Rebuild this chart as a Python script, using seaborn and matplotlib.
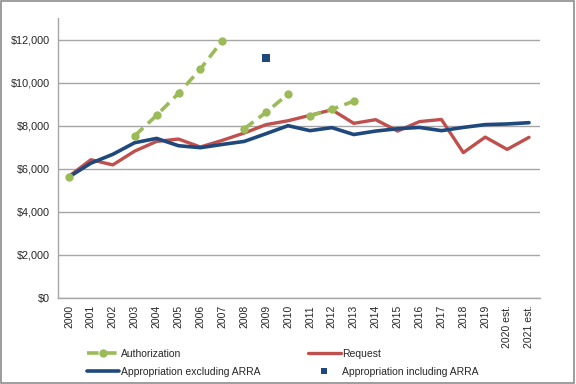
import numpy as np
import pandas as pd
import matplotlib
matplotlib.use("Agg")
import matplotlib.pyplot as plt
import seaborn as sns
from matplotlib.lines import Line2D
from matplotlib.patches import Rectangle
from matplotlib.ticker import FuncFormatter, FixedLocator

years = ["2000", "2001", "2002", "2003", "2004", "2005", "2006", "2007", "2008",
         "2009", "2010", "2011", "2012", "2013", "2014", "2015", "2016", "2017",
         "2018", "2019", "2020 est.", "2021 est."]

request = [5650, 6420, 6180, 6820, 7270, 7380, 7010, 7320, 7660, 8050, 8230,
           8480, 8740, 8110, 8280, 7750, 8190, 8290, 6750, 7470, 6900, 7460]
approp_excl = [5620, 6260, 6670, 7210, 7410, 7070, 6980, 7130, 7270, 7630, 8000,
               7770, 7910, 7590, 7750, 7860, 7920, 7770, 7920, 8050, 8080, 8140]

# authorization comes in separate pieces (each law its own run)
auth_years = ["2000",
              "2003", "2004", "2005", "2006", "2007",
              "2008", "2009", "2010",
              "2011", "2012", "2013"]
auth_values = [5600,
               7530, 8480, 9500, 10630, 11950,
               7860, 8620, 9470,
               8460, 8760, 9140]
auth_segment = [0, 1, 1, 1, 1, 1, 2, 2, 2, 3, 3, 3]

arra_year = ["2009"]
arra_value = [11150]

GREEN = "#9BBB59"
RED = "#C0504D"
BLUE = "#1F497D"
GRID = "#A6A6A6"

sns.set_style("white")
plt.rcParams["font.family"] = ["Liberation Sans", "DejaVu Sans"]

pos = {y: i for i, y in enumerate(years)}
df = pd.DataFrame({"pos": range(len(years)), "Request": request,
                   "Approp": approp_excl})
auth_df = pd.DataFrame({"pos": [pos[y] for y in auth_years],
                        "value": auth_values, "segment": auth_segment})
arra_df = pd.DataFrame({"pos": [pos[y] for y in arra_year], "value": arra_value})

fig = plt.figure(figsize=(5.76, 3.84), dpi=100)
ax = fig.add_axes([58 / 576, 1 - 298 / 384, (540 - 58) / 576, (298 - 18) / 384])

sns.lineplot(data=df, x="pos", y="Request", color=RED, lw=2.4, ax=ax, zorder=3)
sns.lineplot(data=df, x="pos", y="Approp", color=BLUE, lw=2.6, ax=ax, zorder=4)
sns.lineplot(data=auth_df, x="pos", y="value", units="segment", estimator=None,
             color=GREEN, lw=2.6, linestyle=(0, (3.2, 1.8)), marker="o",
             markersize=6, markeredgewidth=0, ax=ax, zorder=5)
sns.scatterplot(data=arra_df, x="pos", y="value", color=BLUE, marker="s", s=28,
                linewidth=0, ax=ax, zorder=6)

ax.set_xlim(-0.5, len(years) - 0.5)
ax.set_ylim(0, 13000)
ax.set_yticks(range(0, 12001, 2000))
ax.yaxis.set_major_formatter(FuncFormatter(lambda v, p: f"${int(v):,}"))
ax.set_xticks(range(len(years)))
ax.set_xticklabels(years, rotation=90)
ax.xaxis.set_minor_locator(FixedLocator(np.arange(-0.5, len(years), 1)))
ax.tick_params(axis="x", which="major", length=0, pad=5, labelsize=7.5)
ax.tick_params(axis="x", which="minor", length=4, color=GRID, direction="out")
ax.tick_params(axis="y", length=4, color=GRID, direction="out", pad=2, labelsize=7.8)
ax.grid(axis="y", color=GRID, lw=1)
ax.set_xlabel("")
ax.set_ylabel("")
for s in ["top", "right"]:
    ax.spines[s].set_visible(False)
for s in ["left", "bottom"]:
    ax.spines[s].set_color(GRID)
    ax.spines[s].set_linewidth(1)

handles = [
    Line2D([], [], color=GREEN, lw=2.6, linestyle=(0, (3.2, 1.8)), marker="o",
           markersize=6, markeredgewidth=0),
    Line2D([], [], color=BLUE, lw=2.6),
    Line2D([], [], color=RED, lw=2.4),
    Line2D([], [], color=BLUE, lw=0, marker="s", markersize=5, markeredgewidth=0),
]
labels = ["Authorization", "Appropriation excluding ARRA", "Request",
          "Appropriation including ARRA"]
fig.legend(handles, labels, loc="upper left", bbox_to_anchor=(87 / 576, 1 - 349 / 384),
           ncol=2, frameon=False, fontsize=7.5, borderpad=0, borderaxespad=0,
           handlelength=3.1, handletextpad=0.15, columnspacing=4.6, labelspacing=0.75)

fig.patches.append(Rectangle((0.002, 0.003), 0.995, 0.994, transform=fig.transFigure,
                             fill=False, edgecolor="#8C8C8C", lw=1.2))

fig.savefig("out.png", dpi=100)
